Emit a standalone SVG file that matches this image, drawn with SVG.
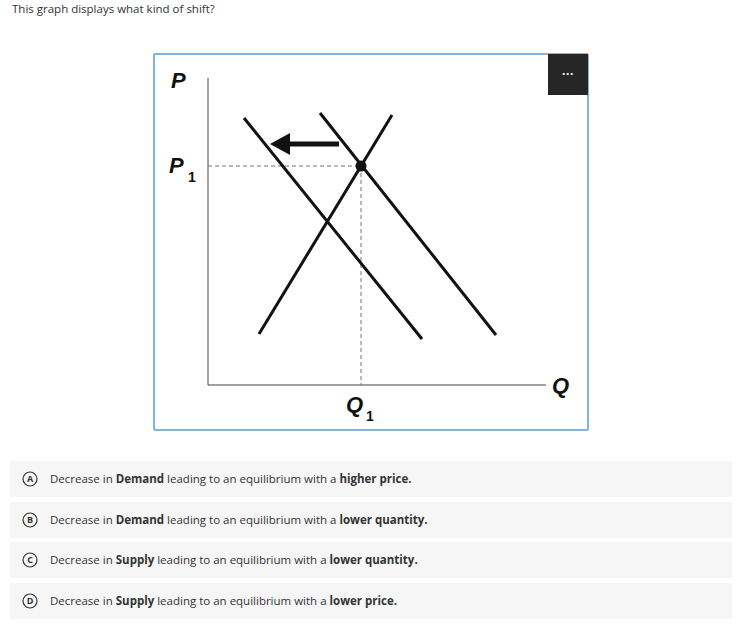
<svg xmlns="http://www.w3.org/2000/svg" width="743" height="631" viewBox="0 0 743 631">
<style>
.t{font-family:"Open Sans",sans-serif;font-size:11.5px;fill:#333}
.ax{font-family:"Liberation Sans",Arial,sans-serif;font-weight:bold;font-style:italic;font-size:22px;fill:#111}
.sub{font-family:"Liberation Sans",Arial,sans-serif;font-weight:bold;font-size:14px;fill:#111}
.c{stroke:#111;stroke-width:3;fill:none}
.d{stroke:#777;stroke-width:1;stroke-dasharray:4 3;fill:none}
.row{fill:#f6f6f6}
.lt{fill:none;stroke:#333;stroke-width:1.2}
.lx{font-family:"Open Sans",sans-serif;font-size:9px;font-weight:bold;fill:#333;text-anchor:middle}
</style>
<rect width="743" height="631" fill="#fff"/>
<text class="t" x="12" y="13">This graph displays what kind of shift?</text>
<g id="chart">
<rect x="154" y="54" width="434" height="376" fill="#fff" stroke="#5b9bd5" stroke-width="1.5" rx="1"/>
<rect x="548" y="54" width="40" height="41" fill="#262626"/>
<text x="568" y="78" font-family="Liberation Sans,sans-serif" font-size="12" font-weight="bold" fill="#fff" text-anchor="middle">···</text>
<line x1="208" y1="78" x2="208" y2="385" stroke="#444" stroke-width="1"/>
<line x1="208" y1="385" x2="546" y2="385" stroke="#444" stroke-width="1"/>
<text class="ax" x="171" y="88">P</text>
<text class="ax" x="169" y="173">P</text><text class="sub" x="188" y="182">1</text>
<text class="ax" x="552" y="393">Q</text>
<text class="ax" x="346" y="412">Q</text><text class="sub" x="366" y="421">1</text>
</g>
<g id="connectors">
<line class="d" x1="208" y1="166" x2="361" y2="166"/>
<line class="d" x1="361" y1="166" x2="361" y2="385"/>
<line class="c" x1="244" y1="118" x2="422" y2="339"/>
<line class="c" x1="320" y1="113" x2="496" y2="335"/>
<line class="c" x1="259" y1="334" x2="392" y2="115"/>
<line x1="339" y1="144" x2="288" y2="144" stroke="#111" stroke-width="5"/>
<polygon points="270,144 290,133 290,155" fill="#111"/>
<circle cx="361" cy="166" r="5.5" fill="#111"/>
</g>
<g id="opt-a"><rect class="row" x="10" y="461" width="722" height="36"/><circle class="lt" cx="30" cy="479" r="7"/><text class="lx" x="30" y="482">A</text><text class="t" x="50" y="483">Decrease in <tspan font-weight="bold">Demand</tspan> leading to an equilibrium with a <tspan font-weight="bold">higher price.</tspan></text></g>
<g id="opt-b"><rect class="row" x="10" y="502" width="722" height="36"/><circle class="lt" cx="30" cy="520" r="7"/><text class="lx" x="30" y="523">B</text><text class="t" x="50" y="524">Decrease in <tspan font-weight="bold">Demand</tspan> leading to an equilibrium with a <tspan font-weight="bold">lower quantity.</tspan></text></g>
<g id="opt-c"><rect class="row" x="10" y="542" width="722" height="36"/><circle class="lt" cx="30" cy="560" r="7"/><text class="lx" x="30" y="563">C</text><text class="t" x="50" y="564">Decrease in <tspan font-weight="bold">Supply</tspan> leading to an equilibrium with a <tspan font-weight="bold">lower quantity.</tspan></text></g>
<g id="opt-d"><rect class="row" x="10" y="583" width="722" height="36"/><circle class="lt" cx="30" cy="601" r="7"/><text class="lx" x="30" y="604">D</text><text class="t" x="50" y="605">Decrease in <tspan font-weight="bold">Supply</tspan> leading to an equilibrium with a <tspan font-weight="bold">lower price.</tspan></text></g>
</svg>
